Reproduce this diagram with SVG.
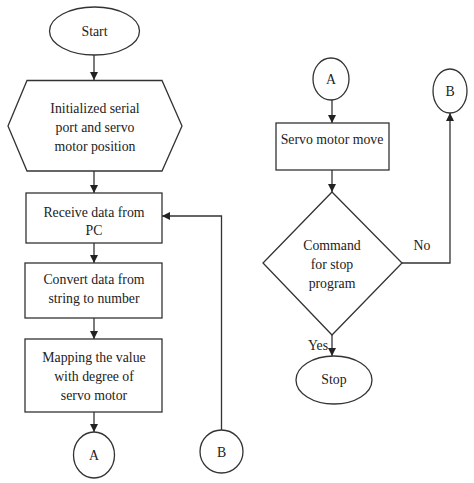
<svg xmlns="http://www.w3.org/2000/svg" width="474" height="483" viewBox="0 0 474 483">
<defs>
<marker id="arr" viewBox="0 0 10 10" refX="10" refY="5" markerWidth="8" markerHeight="8" markerUnits="userSpaceOnUse" orient="auto">
<path d="M0,0 L10,5 L0,10 z" fill="#222"/>
</marker>
</defs>
<style>
.s{fill:#fff;stroke:#333;stroke-width:1.3}
.c{fill:none;stroke:#333;stroke-width:1.3;marker-end:url(#arr)}
text{font-family:"Liberation Serif","Times New Roman",serif;font-size:13.8px;fill:#222;text-anchor:middle}
</style>
<rect width="474" height="483" fill="#fff"/>
<g id="connectors">
<path class="c" d="M94,55 V80"/>
<path class="c" d="M94,171 V193"/>
<path class="c" d="M94,243 V263"/>
<path class="c" d="M94,318 V339"/>
<path class="c" d="M94,412 V432"/>
<path class="c" d="M221.5,430 V216 H162"/>
<path class="c" d="M332,100 V123"/>
<path class="c" d="M332,170 V192"/>
<path class="c" d="M402,263 H450 V113"/>
<path class="c" d="M332,335 V356"/>
<text x="422" y="250">No</text>
<text x="328" y="350" style="text-anchor:end">Yes</text>
</g>
<g id="start"><ellipse class="s" cx="94.5" cy="31" rx="45" ry="24"/><text x="94.5" y="36">Start</text></g>
<g id="init"><polygon class="s" points="27,80.5 162,80.5 182,126 162,171 27,171 8,126"/>
<text x="95" y="113">Initialized serial</text><text x="95" y="132">port and servo</text><text x="95" y="151">motor position</text></g>
<g id="receive"><rect class="s" x="26" y="193" width="136" height="50"/><text x="94" y="217">Receive data from</text><text x="94" y="235">PC</text></g>
<g id="convert"><rect class="s" x="25" y="263" width="137" height="55"/><text x="94" y="284">Convert data from</text><text x="94" y="303">string to number</text></g>
<g id="mapping"><rect class="s" x="25" y="339" width="137" height="73"/><text x="94" y="362">Mapping the value</text><text x="94" y="381">with degree of</text><text x="94" y="400">servo motor</text></g>
<g id="connA1"><ellipse class="s" cx="94" cy="455" rx="20.5" ry="23"/><text x="94" y="460">A</text></g>
<g id="connB1"><ellipse class="s" cx="221.5" cy="451.5" rx="21.5" ry="21.5"/><text x="221.5" y="456.5">B</text></g>
<g id="connA2"><ellipse class="s" cx="331" cy="79" rx="18" ry="21"/><text x="331" y="84">A</text></g>
<g id="servo"><rect class="s" x="276" y="123" width="113" height="47"/><text x="332" y="144">Servo motor move</text></g>
<g id="decision"><polygon class="s" points="332,192 402,263 332,335 263,263"/><text x="332" y="250">Command</text><text x="332" y="269">for stop</text><text x="332" y="288">program</text></g>
<g id="connB2"><ellipse class="s" cx="450" cy="91" rx="17" ry="22"/><text x="450" y="96">B</text></g>
<g id="stop"><ellipse class="s" cx="334" cy="380" rx="38" ry="24"/><text x="334" y="384">Stop</text></g>
</svg>
